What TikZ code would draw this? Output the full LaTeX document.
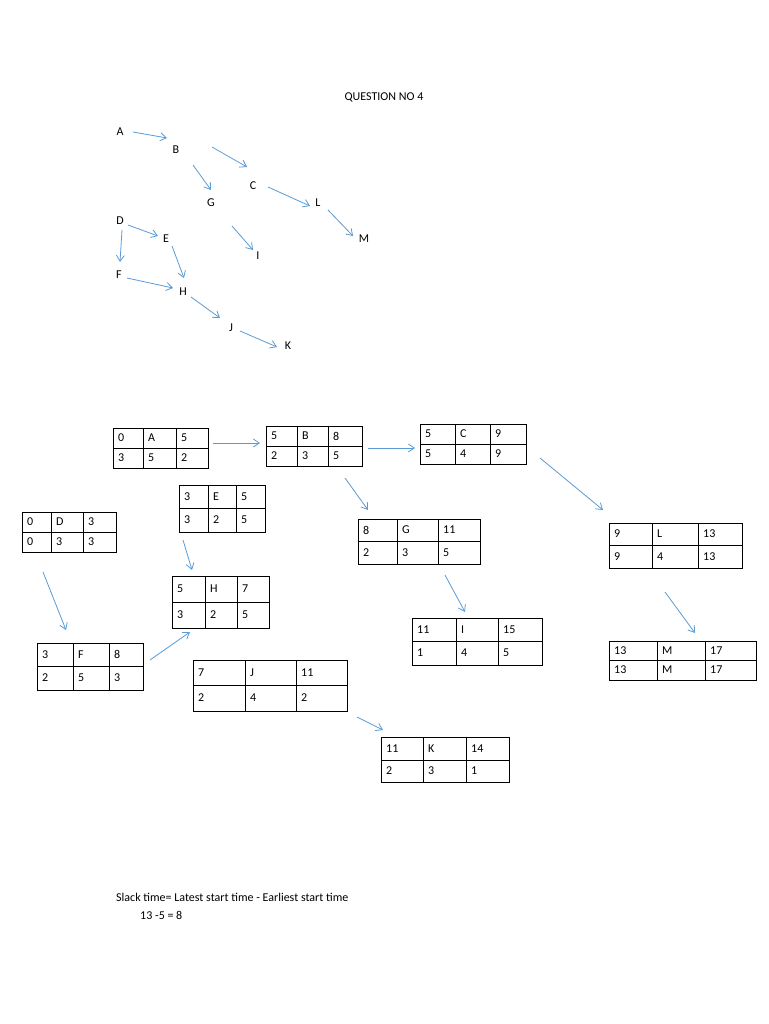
\documentclass[tikz,border=0pt]{standalone}
\usepackage{fontspec}
\setmainfont{Carlito}
\usetikzlibrary{arrows.meta}
\definecolor{arr}{RGB}{91,155,213}
\tikzset{lbl/.style={font=\fontsize{12}{14}\selectfont,inner sep=0pt},
 conn/.style={draw=arr,line width=0.8pt,-{Straight Barb[length=6pt,width=8pt]}}}
\newcommand{\cpmtbl}[9]{%
 \draw[line width=1pt] (#2,#6) rectangle (#5,#8);
 \draw[line width=1pt] (#2,#7) -- (#5,#7) (#3,#6) -- (#3,#8) (#4,#6) -- (#4,#8);
 \foreach \a/\b/\c/\d/\e/\f in {#9}{%
  \node[lbl,anchor=west] at (#2+5,{(#6+#7)/2}) {\a};
  \node[lbl,anchor=west] at (#3+5,{(#6+#7)/2}) {\b};
  \node[lbl,anchor=west] at (#4+5,{(#6+#7)/2}) {\c};
  \node[lbl,anchor=west] at (#2+5,{(#7+#8)/2}) {\d};
  \node[lbl,anchor=west] at (#3+5,{(#7+#8)/2}) {\e};
  \node[lbl,anchor=west] at (#4+5,{(#7+#8)/2}) {\f};}}
\begin{document}
\begin{tikzpicture}[x=1pt,y=-1pt]
\useasboundingbox[fill=white] (0,0) rectangle (768,1024);
\node[lbl] (title) at (384,97) {QUESTION NO 4};
\foreach \n/\x/\y in {A/120/132,B/176/150,C/253/186,G/211/203,L/318/203,M/364/239,I/258/256,D/120/221,E/166/239,F/119/275,H/183/292,J/231/328,K/288/346}
 \node[lbl] (t\n) at (\x,\y) {\n};
\foreach \a/\b/\c/\d in {133/132/167/138, 193/165/211/190, 212/147/247/167, 268/187/310/206, 328/210/353/236, 232/226/253/250, 128/225/158/236, 122/230/120/262, 172/246/184/278, 127/278/173/288, 191/297/220/318, 240/331/277/347,
 213/443/260/443, 368/448/415/448, 540/458/603/510, 345/478/368/510, 445/575/465/612, 665/592/695/633, 183/540/192/570, 43/572/66/630, 150/660/190/632, 357/717/383/730}
 \draw[conn] (\a,\b) -- (\c,\d);
\cpmtbl{A}{113}{143}{176}{208}{428}{448}{468}{0/A/5/3/5/2}
\cpmtbl{B}{266}{297}{328}{362}{426}{446}{466}{5/B/8/2/3/5}
\cpmtbl{C}{420}{455}{490}{526}{424}{444}{464}{5/C/9/5/4/9}
\cpmtbl{D}{22}{51}{83}{116}{512}{532}{552}{0/D/3/0/3/3}
\cpmtbl{E}{179}{208}{236}{265}{485}{508}{532}{3/E/5/3/2/5}
\cpmtbl{G}{358}{397}{438}{480}{519}{541}{564}{8/G/11/2/3/5}
\cpmtbl{L}{609}{652}{698}{742}{523}{545}{568}{9/L/13/9/4/13}
\cpmtbl{H}{172}{205}{237}{269}{576}{602}{628}{5/H/7/3/2/5}
\cpmtbl{F}{37}{73}{109}{143}{643}{666}{690}{3/F/8/2/5/3}
\cpmtbl{I}{412}{456}{498}{542}{618}{641}{665}{11/I/15/1/4/5}
\cpmtbl{M}{609}{657}{705}{756}{641}{660}{680}{13/M/17/13/M/17}
\cpmtbl{J}{193}{245}{296}{347}{660}{685}{711}{7/J/11/2/4/2}
\cpmtbl{K}{381}{423}{466}{509}{737}{760}{782}{11/K/14/2/3/1}
\node[lbl,anchor=west] (s1) at (116,897) {Slack time= Latest start time - Earliest start time};
\node[lbl,anchor=west] (s2) at (140,915) {13 -5 = 8};
\end{tikzpicture}
\end{document}
